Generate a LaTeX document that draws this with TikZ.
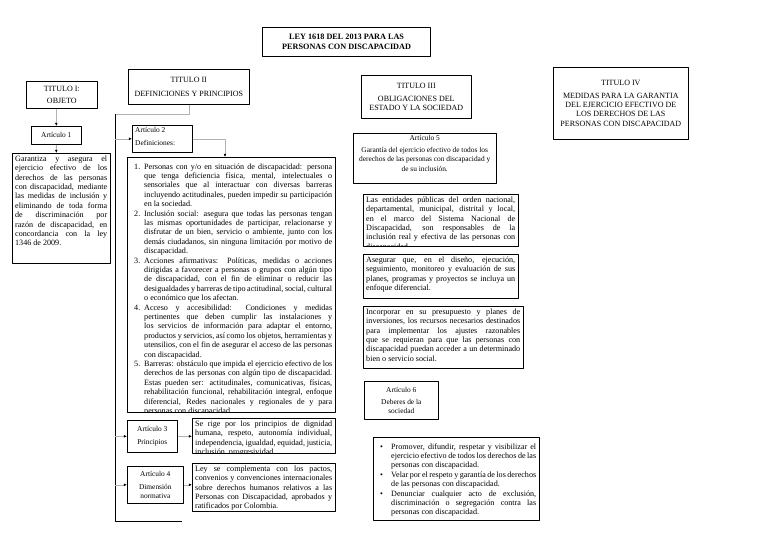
\documentclass[tikz,border=0pt]{standalone}
\usepackage{fontspec}
\setmainfont{Liberation Serif}
\usetikzlibrary{arrows.meta,positioning}

\tolerance=9999
\emergencystretch=1em
\hyphenpenalty=10000

% caja con texto recortado (nombre, x, y, ancho, alto, texto)
\newcommand{\txtbox}[6]{%
  \node[boxframe, minimum width=#4pt, minimum height=#5pt, anchor=north west] (#1) at (#2,#3) {};
  \pgfmathsetmacro{\boxtw}{#4-6}
  \begin{scope}
    \clip (#1.south west) rectangle (#1.north east);
    \node[boxtext, text width=\boxtw pt, anchor=north west] (#1-t) at (#1.north west) {#6};
  \end{scope}}
\newcommand{\defitem}[1]{\par\hangindent=14pt\hangafter=1\noindent\hbox to 14pt{\hskip 4pt #1\hfil}\ignorespaces}
\newcommand{\bulitem}{\par\hangindent=15pt\hangafter=1\noindent\hbox to 15pt{\hskip 4pt\textbullet\hfil}\ignorespaces}

\begin{document}
\begin{tikzpicture}[x=1pt, y=-1pt, line join=round]

% --------- estilos ----------
\tikzset{
  boxframe/.style={draw, line width=0.6pt, inner sep=0pt},
  tagbox/.style={boxframe, align=center, anchor=north west, font=\fontsize{7.4}{8.8}\selectfont},
  titbox/.style={tagbox, font=\fontsize{8}{9.4}\selectfont},
  boxtext/.style={inner xsep=3pt, inner ysep=2.5pt, align=justify, font=\fontsize{8.1}{9.4}\selectfont},
  conn/.style={gray!60, line width=0.6pt},
  arr/.style={conn, -{Latex[length=3.2pt,width=2.8pt,color=black]}},
  brace/.style={line width=0.6pt}
}

\useasboundingbox (0,0) rectangle (768,543);

% ===================== título =====================
\node[tagbox, line width=1.2pt, minimum width=168pt, minimum height=29pt,
      font=\fontsize{8.2}{10}\bfseries] (ley) at (262,27)
  {LEY 1618 DEL 2013 PARA LAS\\PERSONAS CON DISCAPACIDAD};

% ===================== títulos I a IV =====================
\node[titbox, minimum width=71pt, minimum height=27pt] (t1) at (26,81)
  {TITULO I:\\[3pt]OBJETO};
\node[titbox, minimum width=121pt, minimum height=35pt] (t2) at (128,69)
  {TITULO II\\[4pt]DEFINICIONES Y PRINCIPIOS};
\node[titbox, minimum width=110pt, minimum height=43pt] (t3) at (361,75)
  {TITULO III\\[4pt]OBLIGACIONES DEL\\ESTADO Y LA SOCIEDAD};
\node[titbox, minimum width=135pt, minimum height=72pt] (t4) at (553,67)
  {TITULO IV\\[3pt]MEDIDAS PARA LA GARANTIA\\DEL EJERCICIO EFECTIVO DE\\LOS DERECHOS DE LAS\\PERSONAS CON DISCAPACIDAD};

% ===================== (I) objeto =====================
\node[tagbox, minimum width=50pt, minimum height=18pt] (art1) at (31,126) {Artículo 1};
\txtbox{art1txt}{12}{153}{98}{110}{Garantiza y asegura el ejercicio efectivo de los derechos de las personas con discapacidad, mediante las medidas de inclusión y eliminando de toda forma de discriminación por razón de discapacidad, en concordancia con la ley 1346 de 2009.}

\draw[arr] (art1.north |- t1.south) -- (art1.north);
\draw[arr] (art1.south) -- (art1.south |- art1txt.north);

% ===================== (II) definiciones y principios =====================
\txtbox{art2}{132}{125}{60}{27}{\fontsize{7.4}{8.8}\selectfont Artículo 2\par\vspace{3pt}Definiciones:}
\txtbox{def}{127}{157}{208}{255}{%
  \defitem{1.}Personas con y/o en situación de discapacidad: persona que tenga deficiencia física, mental, intelectuales o sensoriales que al interactuar con diversas barreras incluyendo actitudinales, pueden impedir su participación en la sociedad.
  \defitem{2.}Inclusión social: asegura que todas las personas tengan las mismas oportunidades de participar, relacionarse y disfrutar de un bien, servicio o ambiente, junto con los demás ciudadanos, sin ninguna limitación por motivo de discapacidad.
  \defitem{3.}Acciones afirmativas: Políticas, medidas o acciones dirigidas a favorecer a personas o grupos con algún tipo de discapacidad, con el fin de eliminar o reducir las desigualdades y barreras de tipo actitudinal, social, cultural o económico que los afectan.
  \defitem{4.}Acceso y accesibilidad: Condiciones y medidas pertinentes que deben cumplir las instalaciones y los servicios de información para adaptar el entorno, productos y servicios, así como los objetos, herramientas y utensilios, con el fin de asegurar el acceso de las personas con discapacidad.
  \defitem{5.}Barreras: obstáculo que impida el ejercicio efectivo de los derechos de las personas con algún tipo de discapacidad. Estas pueden ser: actitudinales, comunicativas, físicas, rehabilitación funcional, rehabilitación integral, enfoque diferencial, Redes nacionales y regionales de y para personas con discapacidad.\par}

\node[tagbox, minimum width=50pt, minimum height=32pt] (art3) at (127,420) {Artículo 3\\[4pt]Principios};
\txtbox{art3txt}{192}{418}{143}{35}{Se rige por los principios de dignidad humana, respeto, autonomía individual, independencia, igualdad, equidad, justicia, inclusión, progresividad.}

\node[tagbox, minimum width=56pt, minimum height=37pt] (art4) at (127,466) {Artículo 4\\[4pt]Dimensión\\normativa};
\txtbox{art4txt}{192}{463}{143}{48}{Ley se complementa con los pactos, convenios y convenciones internacionales sobre derechos humanos relativos a las Personas con Discapacidad, aprobados y ratificados por Colombia.}

% llave del título II
\coordinate (brkA) at (115,114);
\coordinate (brkB) at (115,521);
\coordinate (brkEnd) at (182,521);
\coordinate (defIn) at (225,157);
\draw[conn] (t2.south) |- (brkA);
\draw[brace] (brkA) -- (brkB) -- (brkEnd);
\draw[arr] (art2.west -| brkA) -- (art2.west);
\draw[arr] (art3.west -| brkA) -- (art3.west);
\draw[arr] (art4.west -| brkA) -- (art4.west);
\draw[arr] (art2.east) -| (defIn);
\draw[arr] (art3.east) -- (art3.east -| art3txt.west);
\draw[arr] (art4.east) -- (art4.east -| art4txt.west);

% ===================== (III) obligaciones =====================
\txtbox{art5}{353}{133}{143}{50}{{\centering\fontsize{7.4}{9.4}\selectfont Artículo 5\par\vspace{2pt}Garantía del ejercicio efectivo de todos los derechos de las personas con discapacidad y de su inclusión.\par}}
\txtbox{ent}{363}{194}{155}{52}{Las entidades públicas del orden nacional, departamental, municipal, distrital y local, en el marco del Sistema Nacional de Discapacidad, son responsables de la inclusión real y efectiva de las personas con discapacidad.}
\txtbox{aseg}{363}{254}{155}{44}{Asegurar que, en el diseño, ejecución, seguimiento, monitoreo y evaluación de sus planes, programas y proyectos se incluya un enfoque diferencial.}
\txtbox{inc}{363}{306}{160}{62}{Incorporar en su presupuesto y planes de inversiones, los recursos necesarios destinados para implementar los ajustes razonables que se requieran para que las personas con discapacidad puedan acceder a un determinado bien o servicio social.}

\node[tagbox, minimum width=74pt, minimum height=38pt] (art6) at (364,381) {Artículo 6\\[4pt]Deberes de la\\sociedad};
\txtbox{bul}{373}{437}{166}{83}{%
  \bulitem Promover, difundir, respetar y visibilizar el ejercicio efectivo de todos los derechos de las personas con discapacidad.
  \bulitem Velar por el respeto y garantía de los derechos de las personas con discapacidad.
  \bulitem Denunciar cualquier acto de exclusión, discriminación o segregación contra las personas con discapacidad.\par}

\end{tikzpicture}
\end{document}
